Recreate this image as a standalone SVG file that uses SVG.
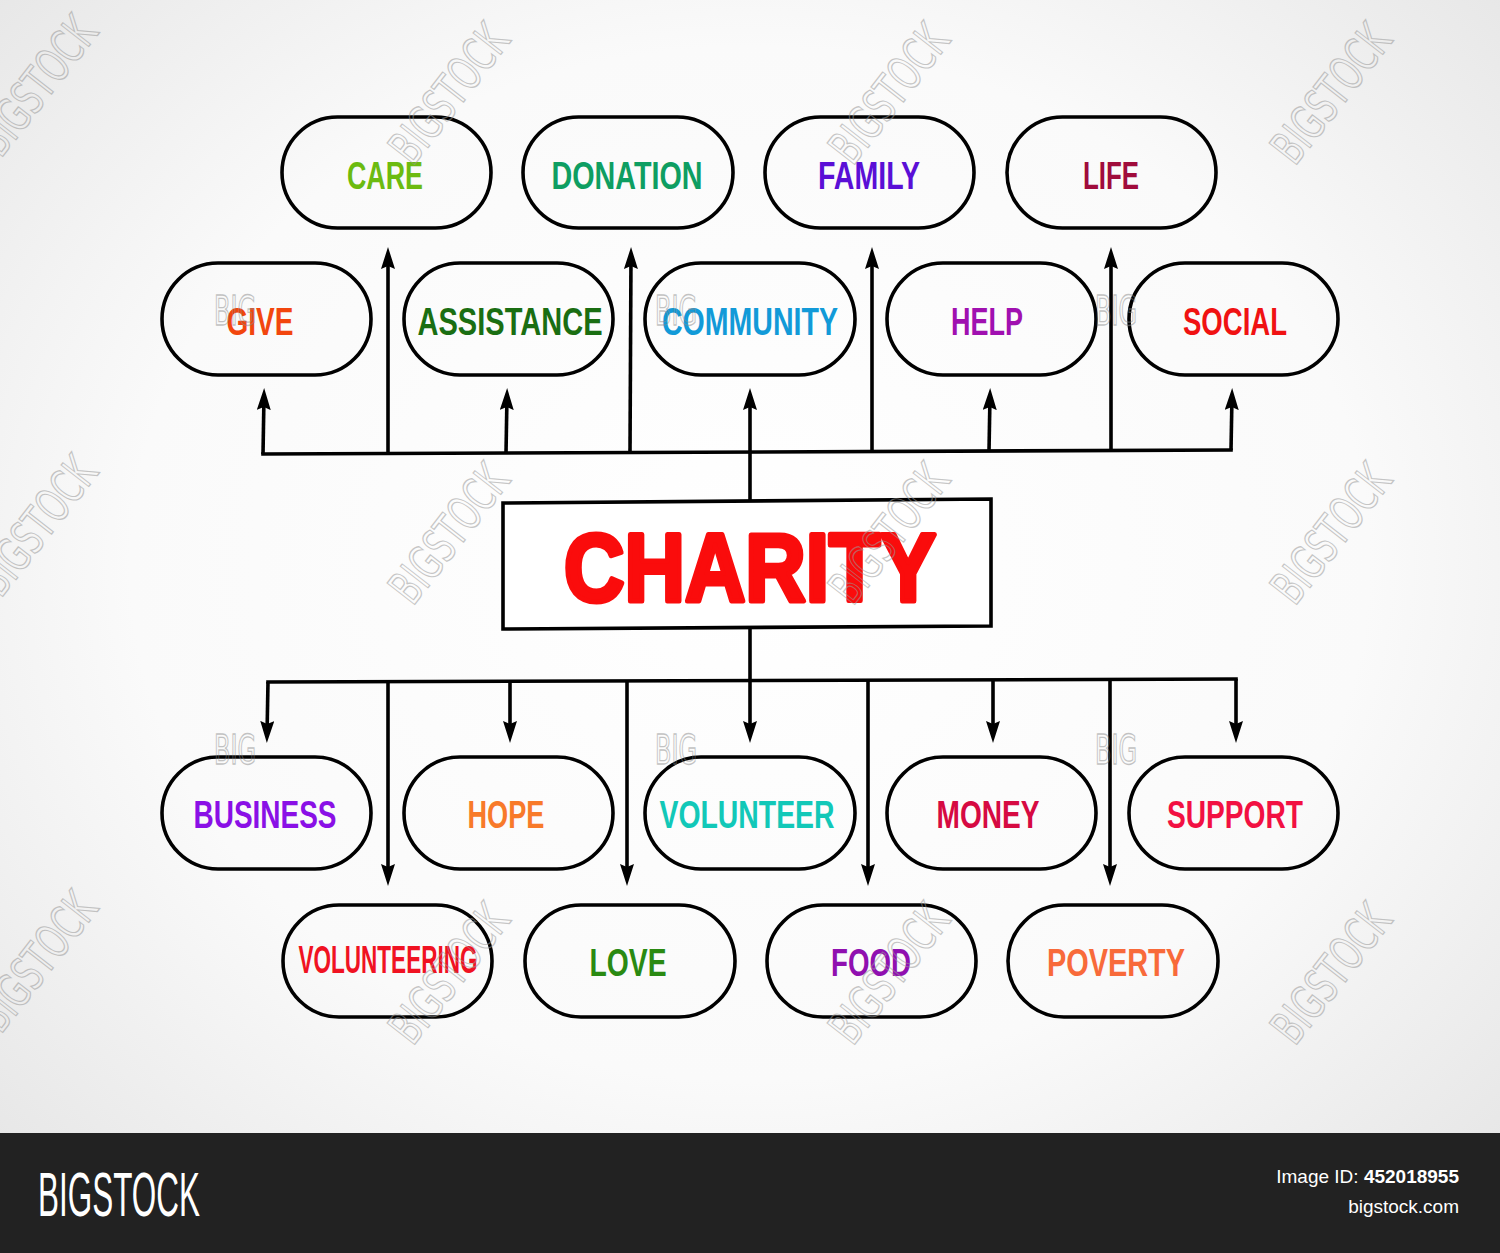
<svg xmlns="http://www.w3.org/2000/svg" width="1500" height="1253" viewBox="0 0 1500 1253">
<defs>
<radialGradient id="bg" cx="50%" cy="45%" r="75%">
<stop offset="0" stop-color="#ffffff"/>
<stop offset="0.55" stop-color="#fafafa"/>
<stop offset="1" stop-color="#e2e2e2"/>
</radialGradient>
<marker id="ah" viewBox="0 0 22 14" refX="14" refY="7" markerWidth="22" markerHeight="14" markerUnits="userSpaceOnUse" orient="auto">
<path d="M0,0 L22,7 L0,14 L3,7 z" fill="#000"/>
</marker>
<style>
.bub{fill:none;stroke:#000;stroke-width:3.6}
.lbl{font-family:"Liberation Sans",Arial,sans-serif;font-weight:bold;font-size:38px;text-anchor:middle}
.con{fill:none;stroke:#000;stroke-width:3.6;stroke-linecap:square}
.arr{fill:none;stroke:#000;stroke-width:3.6;marker-end:url(#ah)}
.wm{font-family:"DejaVu Sans Condensed","Liberation Sans",sans-serif;font-size:48px;fill:none;stroke:#9a9a9a;stroke-width:1.3;opacity:0.55;text-anchor:middle}
.wmb{font-family:"DejaVu Sans Condensed","Liberation Sans",sans-serif;font-size:40px;fill:none;stroke:#8a8a8a;stroke-width:1.3;opacity:0.5;text-anchor:middle}
</style>
</defs>
<rect width="1500" height="1253" fill="url(#bg)"/>

<g id="connectors">
<polyline class="con" points="263,454 1231,450"/>
<polyline class="con" points="268,682 1236,679"/>
<line class="arr" x1="263" y1="454" x2="264" y2="396"/>
<line class="arr" x1="388" y1="453" x2="388" y2="255"/>
<line class="arr" x1="506" y1="453" x2="507" y2="396"/>
<line class="arr" x1="630" y1="452" x2="631" y2="255"/>
<line class="arr" x1="750" y1="500" x2="750" y2="396"/>
<line class="arr" x1="872" y1="452" x2="872" y2="255"/>
<line class="arr" x1="989" y1="451" x2="990" y2="396"/>
<line class="arr" x1="1111" y1="451" x2="1111" y2="255"/>
<line class="arr" x1="1231" y1="450" x2="1232" y2="396"/>
<line class="arr" x1="268" y1="682" x2="267" y2="735"/>
<line class="arr" x1="388" y1="682" x2="388" y2="878"/>
<line class="arr" x1="510" y1="681" x2="510" y2="735"/>
<line class="arr" x1="627" y1="681" x2="627" y2="878"/>
<line class="arr" x1="750" y1="629" x2="750" y2="735"/>
<line class="arr" x1="868" y1="680" x2="868" y2="878"/>
<line class="arr" x1="993" y1="680" x2="993" y2="735"/>
<line class="arr" x1="1110" y1="680" x2="1110" y2="878"/>
<line class="arr" x1="1236" y1="679" x2="1236" y2="735"/>
</g>

<g id="charity">
<polygon points="503,503 991,499 991,626 503,629" fill="#fff" stroke="#000" stroke-width="3.6"/>
<text x="750" y="601" font-family="Liberation Sans,Arial,sans-serif" font-weight="bold" font-size="96" text-anchor="middle" fill="#fa0c0c" stroke="#fa0c0c" stroke-width="5" stroke-linejoin="round" textLength="372" lengthAdjust="spacingAndGlyphs">CHARITY</text>
</g>

<g id="care"><rect class="bub" x="282" y="117" width="209" height="111" rx="55.5"/><text class="lbl" x="385" y="189" fill="#6cbb10" textLength="76" lengthAdjust="spacingAndGlyphs">CARE</text></g>
<g id="donation"><rect class="bub" x="523" y="117" width="210" height="111" rx="55.5"/><text class="lbl" x="627" y="189" fill="#0e9e62" textLength="151" lengthAdjust="spacingAndGlyphs">DONATION</text></g>
<g id="family"><rect class="bub" x="765" y="117" width="209" height="111" rx="55.5"/><text class="lbl" x="869" y="189" fill="#5a0fd6" textLength="102" lengthAdjust="spacingAndGlyphs">FAMILY</text></g>
<g id="life"><rect class="bub" x="1007" y="117" width="209" height="111" rx="55.5"/><text class="lbl" x="1111" y="189" fill="#a00c3c" textLength="56" lengthAdjust="spacingAndGlyphs">LIFE</text></g>

<g id="give"><rect class="bub" x="162" y="263" width="209" height="112" rx="56"/><text class="lbl" x="260" y="335" fill="#f2460e" textLength="67" lengthAdjust="spacingAndGlyphs">GIVE</text></g>
<g id="assistance"><rect class="bub" x="404" y="263" width="209" height="112" rx="56"/><text class="lbl" x="510" y="335" fill="#1a6e12" textLength="185" lengthAdjust="spacingAndGlyphs">ASSISTANCE</text></g>
<g id="community"><rect class="bub" x="645" y="263" width="210" height="112" rx="56"/><text class="lbl" x="750" y="335" fill="#129ad8" textLength="176" lengthAdjust="spacingAndGlyphs">COMMUNITY</text></g>
<g id="help"><rect class="bub" x="887" y="263" width="209" height="112" rx="56"/><text class="lbl" x="987" y="335" fill="#a010b0" textLength="72" lengthAdjust="spacingAndGlyphs">HELP</text></g>
<g id="social"><rect class="bub" x="1129" y="263" width="209" height="112" rx="56"/><text class="lbl" x="1235" y="335" fill="#f01212" textLength="104" lengthAdjust="spacingAndGlyphs">SOCIAL</text></g>

<g id="business"><rect class="bub" x="162" y="757" width="209" height="112" rx="56"/><text class="lbl" x="265" y="828" fill="#8a10e6" textLength="143" lengthAdjust="spacingAndGlyphs">BUSINESS</text></g>
<g id="hope"><rect class="bub" x="404" y="757" width="209" height="112" rx="56"/><text class="lbl" x="506" y="828" fill="#f87a2a" textLength="77" lengthAdjust="spacingAndGlyphs">HOPE</text></g>
<g id="volunteer"><rect class="bub" x="645" y="757" width="210" height="112" rx="56"/><text class="lbl" x="747" y="828" fill="#12c8b8" textLength="175" lengthAdjust="spacingAndGlyphs">VOLUNTEER</text></g>
<g id="money"><rect class="bub" x="887" y="757" width="209" height="112" rx="56"/><text class="lbl" x="988" y="828" fill="#d60a42" textLength="103" lengthAdjust="spacingAndGlyphs">MONEY</text></g>
<g id="support"><rect class="bub" x="1129" y="757" width="209" height="112" rx="56"/><text class="lbl" x="1235" y="828" fill="#f21042" textLength="136" lengthAdjust="spacingAndGlyphs">SUPPORT</text></g>

<g id="volunteering"><rect class="bub" x="283" y="905" width="209" height="112" rx="56"/><text class="lbl" x="388" y="973" fill="#f01222" font-size="30" textLength="179" lengthAdjust="spacingAndGlyphs">VOLUNTEERING</text></g>
<g id="love"><rect class="bub" x="525" y="905" width="210" height="112" rx="56"/><text class="lbl" x="628" y="976" fill="#2a8a12" textLength="77" lengthAdjust="spacingAndGlyphs">LOVE</text></g>
<g id="food"><rect class="bub" x="767" y="905" width="209" height="112" rx="56"/><text class="lbl" x="871" y="976" fill="#9010b0" textLength="80" lengthAdjust="spacingAndGlyphs">FOOD</text></g>
<g id="poverty"><rect class="bub" x="1008" y="905" width="210" height="112" rx="56"/><text class="lbl" x="1116" y="976" fill="#f86a3a" textLength="138" lengthAdjust="spacingAndGlyphs">POVERTY</text></g>

<g id="watermarks">
<text class="wm" transform="translate(462,104) rotate(-52)" textLength="160" lengthAdjust="spacingAndGlyphs">BIGSTOCK</text>
<text class="wm" transform="translate(902,104) rotate(-52)" textLength="160" lengthAdjust="spacingAndGlyphs">BIGSTOCK</text>
<text class="wm" transform="translate(1344,104) rotate(-52)" textLength="160" lengthAdjust="spacingAndGlyphs">BIGSTOCK</text>
<text class="wm" transform="translate(50,96) rotate(-52)" textLength="160" lengthAdjust="spacingAndGlyphs">BIGSTOCK</text>
<text class="wm" transform="translate(462,544) rotate(-52)" textLength="160" lengthAdjust="spacingAndGlyphs">BIGSTOCK</text>
<text class="wm" transform="translate(902,544) rotate(-52)" textLength="160" lengthAdjust="spacingAndGlyphs">BIGSTOCK</text>
<text class="wm" transform="translate(1344,544) rotate(-52)" textLength="160" lengthAdjust="spacingAndGlyphs">BIGSTOCK</text>
<text class="wm" transform="translate(50,536) rotate(-52)" textLength="160" lengthAdjust="spacingAndGlyphs">BIGSTOCK</text>
<text class="wm" transform="translate(462,984) rotate(-52)" textLength="160" lengthAdjust="spacingAndGlyphs">BIGSTOCK</text>
<text class="wm" transform="translate(902,984) rotate(-52)" textLength="160" lengthAdjust="spacingAndGlyphs">BIGSTOCK</text>
<text class="wm" transform="translate(1344,984) rotate(-52)" textLength="160" lengthAdjust="spacingAndGlyphs">BIGSTOCK</text>
<text class="wm" transform="translate(50,972) rotate(-52)" textLength="160" lengthAdjust="spacingAndGlyphs">BIGSTOCK</text>
<text class="wmb" x="235" y="325" textLength="42" lengthAdjust="spacingAndGlyphs">BIG</text>
<text class="wmb" x="676" y="325" textLength="42" lengthAdjust="spacingAndGlyphs">BIG</text>
<text class="wmb" x="1116" y="325" textLength="42" lengthAdjust="spacingAndGlyphs">BIG</text>
<text class="wmb" x="235" y="764" textLength="42" lengthAdjust="spacingAndGlyphs">BIG</text>
<text class="wmb" x="676" y="764" textLength="42" lengthAdjust="spacingAndGlyphs">BIG</text>
<text class="wmb" x="1116" y="764" textLength="42" lengthAdjust="spacingAndGlyphs">BIG</text>
</g>

<g id="footer">
<rect x="0" y="1133" width="1500" height="120" fill="#222222"/>
<text x="38" y="1216" font-family="Liberation Sans,Arial,sans-serif" font-size="63" fill="#fff" textLength="162" lengthAdjust="spacingAndGlyphs">BIGSTOCK</text>
<text x="1459" y="1183" font-family="Liberation Sans,Arial,sans-serif" font-size="19" fill="#fff" text-anchor="end">Image ID: <tspan font-weight="bold">452018955</tspan></text>
<text x="1459" y="1213" font-family="Liberation Sans,Arial,sans-serif" font-size="19" fill="#fff" text-anchor="end">bigstock.com</text>
</g>
</svg>
